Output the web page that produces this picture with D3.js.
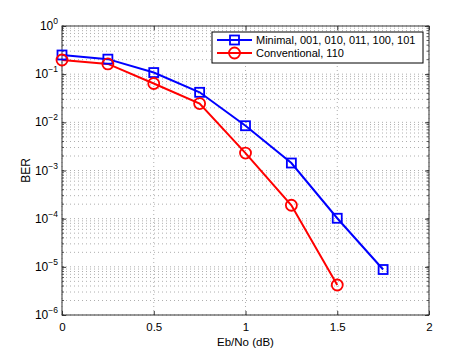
<!DOCTYPE html>
<html><head><meta charset="utf-8">
<script src="https://cdn.jsdelivr.net/npm/d3@7"></script>
<style>body{margin:0;background:#fff}svg{display:block}text{font-family:"Liberation Sans",Arial,sans-serif}</style>
</head><body><svg id="c" width="474" height="355"></svg>
<script>
const ebno = [0, 0.25, 0.5, 0.75, 1, 1.25, 1.5, 1.75];
const minimalBER = [0.25, 0.205, 0.108, 0.042, 0.0085, 0.00143, 0.000102, 0.0000088];
const conventionalBER = [0.197, 0.163, 0.064, 0.0245, 0.0023, 0.00019, 0.0000042];
const xTicks = [0, 0.5, 1, 1.5, 2];
const yExps = [0, -1, -2, -3, -4, -5, -6];
const seriesNames = ["Minimal, 001, 010, 011, 100, 101", "Conventional, 110"];

const svg = d3.select("#c");
const L = 62, R = 429, T = 26, B = 315;
const x = d3.scaleLinear().domain([0, 2]).range([L, R]);
const y = d3.scaleLog().domain([1e-6, 1]).range([B, T]);

// grid
const g = svg.append("g");
const minor = [];
for (let e = -6; e < 0; e++) for (let m = 1; m <= 9; m++) minor.push(m * Math.pow(10, e));
minor.push(1);
g.selectAll("line.hg").data(minor).join("line")
  .attr("x1", L).attr("x2", R).attr("y1", d => y(d)).attr("y2", d => y(d))
  .attr("stroke", "#999").attr("stroke-width", 0.8).attr("stroke-dasharray", "1,3");
g.selectAll("line.vg").data(xTicks).join("line")
  .attr("y1", T).attr("y2", B).attr("x1", d => x(d)).attr("x2", d => x(d))
  .attr("stroke", "#999").attr("stroke-width", 0.8).attr("stroke-dasharray", "1,3");

// axes (ticks inside)
const fmtX = d => d3.format("")(d);
svg.append("g").attr("transform", `translate(0,${B})`)
  .call(d3.axisBottom(x).tickValues(xTicks).tickSizeInner(-4).tickSizeOuter(0).tickPadding(8).tickFormat(fmtX))
  .call(a => { a.select(".domain").remove(); a.selectAll("text").attr("font-size", 11.5).attr("fill", "#000"); a.selectAll("line").attr("stroke", "#333"); });
svg.append("g").attr("transform", `translate(0,${T})`)
  .call(d3.axisTop(x).tickValues(xTicks).tickSizeInner(-4).tickSizeOuter(0).tickFormat(""))
  .call(a => { a.select(".domain").remove(); a.selectAll("line").attr("stroke", "#333"); });
const yMajor = yExps.map(e => Math.pow(10, e));
svg.append("g").attr("transform", `translate(${L},0)`)
  .call(d3.axisLeft(y).tickValues(yMajor).tickSizeInner(-4).tickSizeOuter(0).tickFormat(""))
  .call(a => { a.select(".domain").remove(); a.selectAll("line").attr("stroke", "#333"); });
svg.append("g").attr("transform", `translate(${R},0)`)
  .call(d3.axisRight(y).tickValues(yMajor).tickSizeInner(-4).tickSizeOuter(0).tickFormat(""))
  .call(a => { a.select(".domain").remove(); a.selectAll("line").attr("stroke", "#333"); });
// minor ticks
[[L, 2], [R, -2]].forEach(([px, s]) => {
  svg.append("g").selectAll("line").data(minor).join("line")
    .attr("x1", px).attr("x2", px + s).attr("y1", d => y(d)).attr("y2", d => y(d))
    .attr("stroke", "#333").attr("stroke-width", 0.8);
});
// y tick labels 10^e
const lab = svg.append("g");
yExps.forEach(e => {
  const t = lab.append("text").attr("x", L - 4).attr("y", y(Math.pow(10, e)) + 4)
    .attr("text-anchor", "end").attr("font-size", 12).attr("fill", "#000");
  t.append("tspan").text("10");
  t.append("tspan").attr("dy", -6).attr("font-size", 8.5).text(String(e).replace("-", "\u2212"));
});

// box
svg.append("rect").attr("x", L).attr("y", T).attr("width", R - L).attr("height", B - T)
  .attr("fill", "none").attr("stroke", "#333").attr("stroke-width", 1);

svg.append("text").attr("x", (L + R) / 2).attr("y", 346).attr("text-anchor", "middle")
  .attr("font-size", 11.5).text("Eb/No (dB)");
svg.append("text").attr("transform", `translate(30,${(T + B) / 2}) rotate(-90)`).attr("text-anchor", "middle")
  .attr("font-size", 12).text("BER");

// series
const line = d3.line().x(d => x(d[0])).y(d => y(d[1]));
const blue = ebno.map((v, i) => [v, minimalBER[i]]);
const red = ebno.slice(0, conventionalBER.length).map((v, i) => [v, conventionalBER[i]]);
svg.append("path").datum(blue).attr("d", line).attr("fill", "none").attr("stroke", "#0000ff").attr("stroke-width", 2);
svg.append("path").datum(red).attr("d", line).attr("fill", "none").attr("stroke", "#ff0000").attr("stroke-width", 2);
svg.append("g").selectAll("rect").data(blue).join("rect")
  .attr("x", d => x(d[0]) - 4.5).attr("y", d => y(d[1]) - 4.5).attr("width", 9).attr("height", 9)
  .attr("fill", "none").attr("stroke", "#0000ff").attr("stroke-width", 1.8);
svg.append("g").selectAll("circle").data(red).join("circle")
  .attr("cx", d => x(d[0])).attr("cy", d => y(d[1])).attr("r", 5.5)
  .attr("fill", "none").attr("stroke", "#ff0000").attr("stroke-width", 1.8);

// legend
const lg = svg.append("g");
lg.append("rect").attr("x", 212).attr("y", 32).attr("width", 211).attr("height", 31)
  .attr("fill", "#fff").attr("stroke", "#000").attr("stroke-width", 1);
[[40, "#0000ff", "sq"], [53, "#ff0000", "ci"]].forEach(([ly, c, m], i) => {
  lg.append("line").attr("x1", 217).attr("x2", 252).attr("y1", ly).attr("y2", ly).attr("stroke", c).attr("stroke-width", 2);
  if (m === "sq") lg.append("rect").attr("x", 230).attr("y", ly - 4.5).attr("width", 9).attr("height", 9).attr("fill", "none").attr("stroke", c).attr("stroke-width", 1.8);
  else lg.append("circle").attr("cx", 234.5).attr("cy", ly).attr("r", 5.5).attr("fill", "none").attr("stroke", c).attr("stroke-width", 1.8);
  lg.append("text").attr("x", 256).attr("y", ly + 4).attr("font-size", 11).text(seriesNames[i]);
});
</script></body></html>
